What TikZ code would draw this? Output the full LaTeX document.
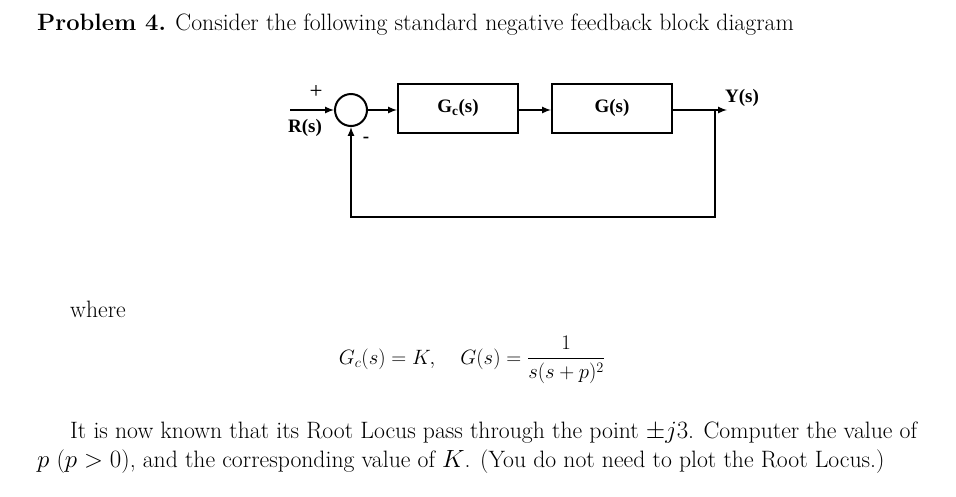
\documentclass[tikz,border=0pt]{standalone}
\usepackage{amsmath}
\usepackage{fontspec}
\newfontfamily\blockfont{Liberation Serif}
\usetikzlibrary{positioning}
\tikzset{
  block/.style={draw,line width=2pt,minimum width=120pt,minimum height=49pt,font=\blockfont\bfseries\fontsize{19}{21}\selectfont},
  sig/.style={line width=2pt},
  lbl/.style={font=\blockfont\bfseries\fontsize{19}{21}\selectfont},
  txt/.style={font=\fontsize{23.7}{28}\selectfont,anchor=base west,inner sep=0pt}
}
\begin{document}
\begin{tikzpicture}[x=1pt,y=-1pt,>=latex]
  \useasboundingbox (0,0) rectangle (956,496);

  \node[txt] (title) at (37,30) {\textbf{Problem 4.} Consider the following standard negative feedback block diagram};

  % loop
  \coordinate (in) at (290,110);
  \node[draw,circle,line width=2pt,minimum size=32pt,inner sep=0pt] (sum) at (351,110) {};
  \node[block] (gc) at (458,108) {G$_\text{c}$(s)};
  \node[block] (g) at (612,108) {G(s)};
  \coordinate (br) at (715,110);
  \coordinate (out) at (727,110);
  \coordinate (bot) at (715,217);
  \coordinate (botl) at (351,217);

  \draw[sig,->] (in) -- (sum.west);
  \draw[sig,->] (sum.east) -- (gc.west |- sum.east);
  \draw[sig,->] (gc.east |- sum.east) -- (g.west |- sum.east);
  \draw[sig,->] (g.east |- sum.east) -- (out);
  \draw[sig,->] (br) -- (bot) -- (botl) -- (sum.south);

  \node[lbl] (plus) at (316,92) {\fontsize{23}{23}\selectfont\mdseries +};
  \node[lbl] (minus) at (366,140) {-};
  \node[lbl] (rs) at (305,128) {R(s)};
  \node[lbl] (ys) at (742,98) {Y(s)};

  \node[txt] (where) at (70,317) {where};
  \node[font=\fontsize{21.5}{26}\selectfont] (eq) at (472,360)
    {$G_c(s)=K,\quad G(s)=\dfrac{1}{s(s+p)^2}$};
  \node[txt] (l1) at (70,438) {It is now known that its Root Locus pass through the point $\pm j3$. Computer the value of};
  \node[txt] (l2) at (37,467) {$p$ ($p>0$), and the corresponding value of $K$. (You do not need to plot the Root Locus.)};
\end{tikzpicture}
\end{document}
